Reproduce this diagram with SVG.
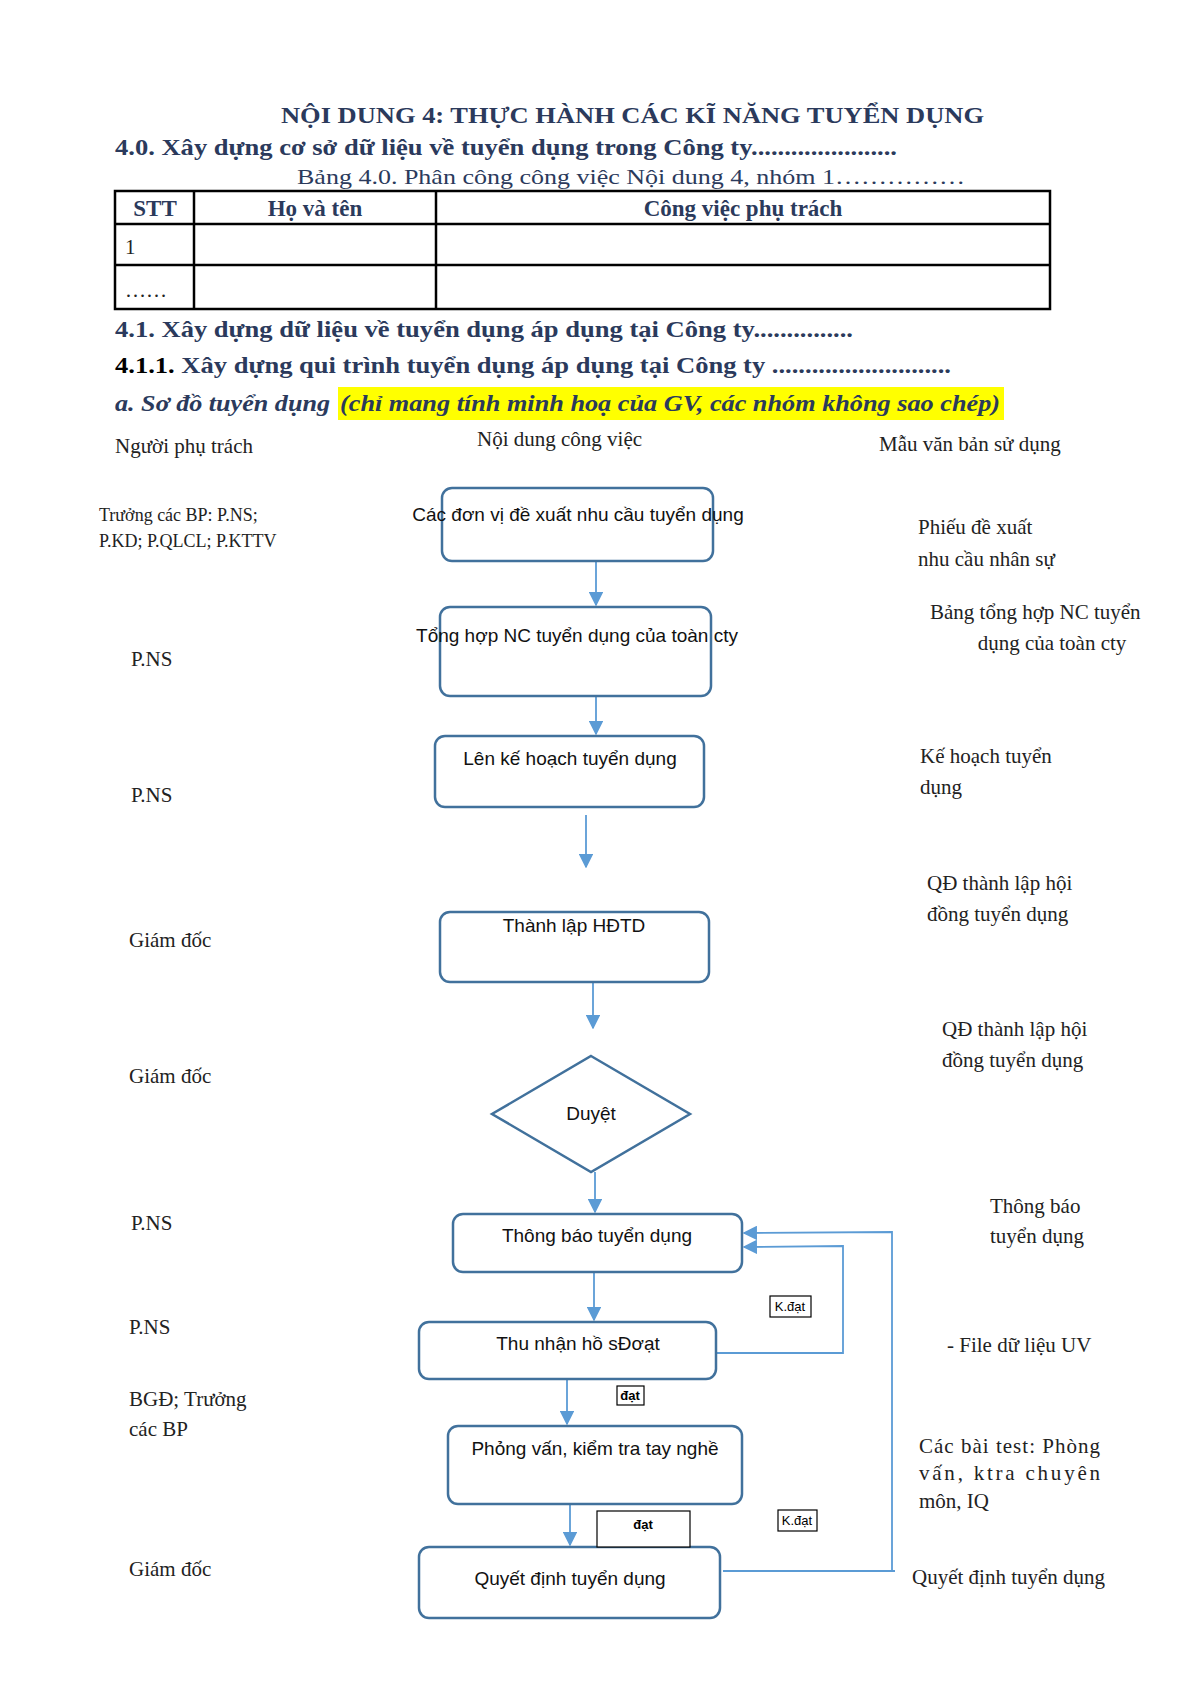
<svg xmlns="http://www.w3.org/2000/svg" width="1200" height="1701" viewBox="0 0 1200 1701">
<style>
.h{font-family:"Liberation Serif",serif;font-weight:bold;fill:#2b3a5c;font-size:23px}
.s{font-family:"Liberation Serif",serif;fill:#222;font-size:21px}
.b{font-family:"Liberation Sans",sans-serif;fill:#111;font-size:19px;text-anchor:middle}
.box{fill:#fff;stroke:#41719c;stroke-width:2.5}
.ln{stroke:#5b9bd5;stroke-width:1.8;fill:none}
.lb{fill:#fff;stroke:#000;stroke-width:1.2}
.k{font-family:"Liberation Sans",sans-serif;font-size:13px;fill:#000;text-anchor:middle}
</style>
<defs><marker id="a" viewBox="0 0 10 10" refX="9" refY="5" markerWidth="8" markerHeight="8" orient="auto"><path d="M0,0L10,5L0,10z" fill="#5b9bd5"/></marker></defs>
<rect width="1200" height="1701" fill="#fff"/>
<text x="281" y="123" class="h" textLength="703" lengthAdjust="spacingAndGlyphs">NỘI DUNG 4: THỰC HÀNH CÁC KĨ NĂNG TUYỂN DỤNG</text>
<text x="115" y="155" class="h" textLength="782" lengthAdjust="spacingAndGlyphs">4.0. Xây dựng cơ sở dữ liệu về tuyển dụng trong Công ty......................</text>
<text x="297" y="184" class="s" style="fill:#2b3a5c" textLength="668" lengthAdjust="spacingAndGlyphs">Bảng 4.0. Phân công công việc Nội dung 4, nhóm 1……………</text>
<g fill="none" stroke="#000" stroke-width="2.5">
<rect x="115" y="191" width="935" height="118"/>
<line x1="115" y1="224" x2="1050" y2="224"/><line x1="115" y1="265" x2="1050" y2="265"/>
<line x1="194" y1="191" x2="194" y2="309"/><line x1="436" y1="191" x2="436" y2="309"/>
</g>
<text x="155" y="216" class="h" text-anchor="middle" font-size="25">STT</text>
<text x="315" y="216" class="h" text-anchor="middle" font-size="25">Họ và tên</text>
<text x="743" y="216" class="h" text-anchor="middle" font-size="25">Công việc phụ trách</text>
<text x="125" y="254" class="s">1</text>
<text x="125" y="297" class="s">……</text>
<text x="115" y="337" class="h" textLength="738" lengthAdjust="spacingAndGlyphs">4.1. Xây dựng dữ liệu về tuyển dụng áp dụng tại Công ty...............</text>
<text x="115" y="373" class="h" textLength="836" lengthAdjust="spacingAndGlyphs"><tspan fill="#000">4.1.1.</tspan> Xây dựng qui trình tuyển dụng áp dụng tại Công ty ...........................</text>
<rect x="338" y="387" width="666" height="33" fill="#ffff00"/>
<text x="115" y="411" class="h" font-style="italic" textLength="215" lengthAdjust="spacingAndGlyphs">a. Sơ đồ tuyển dụng</text>
<text x="340" y="411" class="h" font-style="italic" textLength="660" lengthAdjust="spacingAndGlyphs">(chỉ mang tính minh hoạ của GV, các nhóm không sao chép)</text>
<text x="115" y="453" class="s">Người phụ trách</text>
<text x="477" y="446" class="s">Nội dung công việc</text>
<text x="879" y="451" class="s">Mẫu văn bản sử dụng</text>
<g class="s">
<text x="99" y="521" font-size="18">Trưởng các BP: P.NS;</text>
<text x="99" y="547" font-size="18">P.KD; P.QLCL; P.KTTV</text>
<text x="131" y="666">P.NS</text><text x="131" y="802">P.NS</text>
<text x="129" y="947">Giám đốc</text><text x="129" y="1083">Giám đốc</text>
<text x="131" y="1230">P.NS</text><text x="129" y="1334">P.NS</text>
<text x="129" y="1406">BGĐ; Trưởng</text><text x="129" y="1436">các BP</text>
<text x="129" y="1576">Giám đốc</text>
<text x="918" y="534">Phiếu đề xuất</text><text x="918" y="566">nhu cầu nhân sự</text>
<text x="930" y="619">Bảng tổng hợp NC tuyển</text><text x="1052" y="650" text-anchor="middle">dụng của toàn cty</text>
<text x="920" y="763">Kế hoạch tuyển</text><text x="920" y="794">dụng</text>
<text x="927" y="890">QĐ thành lập hội</text><text x="927" y="921">đồng tuyển dụng</text>
<text x="942" y="1036">QĐ thành lập hội</text><text x="942" y="1067">đồng tuyển dụng</text>
<text x="990" y="1213">Thông báo</text><text x="990" y="1243">tuyển dụng</text>
<text x="947" y="1352">- File dữ liệu UV</text>
<text x="919" y="1453" textLength="181" lengthAdjust="spacing">Các bài test: Phòng</text>
<text x="919" y="1480" textLength="181" lengthAdjust="spacing">vấn, ktra chuyên</text>
<text x="919" y="1508">môn, IQ</text>
<text x="912" y="1584">Quyết định tuyển dụng</text>
</g>
<g id="connectors">
<line class="ln" x1="596" y1="561" x2="596" y2="605" marker-end="url(#a)"/>
<line class="ln" x1="596" y1="696" x2="596" y2="734" marker-end="url(#a)"/>
<line class="ln" x1="586" y1="815" x2="586" y2="867" marker-end="url(#a)"/>
<line class="ln" x1="593" y1="979" x2="593" y2="1028" marker-end="url(#a)"/>
<line class="ln" x1="595" y1="1172" x2="595" y2="1212" marker-end="url(#a)"/>
<line class="ln" x1="594" y1="1272" x2="594" y2="1320" marker-end="url(#a)"/>
<line class="ln" x1="567" y1="1379" x2="567" y2="1424" marker-end="url(#a)"/>
<line class="ln" x1="570" y1="1505" x2="570" y2="1545" marker-end="url(#a)"/>
<polyline class="ln" points="716,1353 843,1353 843,1246 744,1247" marker-end="url(#a)"/>
<polyline class="ln" points="723,1571 895,1571 892,1571 892,1232 744,1233" marker-end="url(#a)"/>
</g>
<g id="n1"><rect class="box" x="442" y="488" width="271" height="73" rx="10"/><text class="b" x="578" y="521" font-size="16">Các đơn vị đề xuất nhu cầu tuyển dụng</text></g>
<g id="n2"><rect class="box" x="440" y="607" width="271" height="89" rx="10"/><text class="b" x="577" y="642">Tổng hợp NC tuyển dụng của toàn cty</text></g>
<g id="n3"><rect class="box" x="435" y="736" width="269" height="71" rx="10"/><text class="b" x="570" y="765">Lên kế hoạch tuyển dụng</text></g>
<g id="n4"><rect class="box" x="440" y="912" width="269" height="70" rx="10"/><text class="b" x="574" y="932">Thành lập HĐTD</text></g>
<g id="n5"><polygon class="box" points="591,1056 690,1114 591,1172 492,1114"/><text class="b" x="591" y="1120">Duyệt</text></g>
<g id="n6"><rect class="box" x="453" y="1214" width="289" height="58" rx="10"/><text class="b" x="597" y="1242">Thông báo tuyển dụng</text></g>
<g id="n7"><rect class="box" x="419" y="1322" width="297" height="57" rx="10"/><text class="b" x="578" y="1350">Thu nhận hồ sĐơạt</text></g>
<g id="n8"><rect class="box" x="448" y="1426" width="294" height="78" rx="10"/><text class="b" x="595" y="1455">Phỏng vấn, kiểm tra tay nghề</text></g>
<g id="n9"><rect class="box" x="419" y="1547" width="301" height="71" rx="10" stroke="#2f528f"/><text class="b" x="570" y="1585">Quyết định tuyển dụng</text></g>
<g id="labels">
<rect class="lb" x="597" y="1511" width="93" height="36"/><text class="k" x="643" y="1529" font-weight="bold">đạt</text>
<rect class="lb" x="617" y="1386" width="27" height="19"/><text class="k" x="630" y="1400" font-weight="bold">đạt</text>
<rect class="lb" x="770" y="1296" width="41" height="21"/><text class="k" x="790" y="1311">K.đạt</text>
<rect class="lb" x="778" y="1510" width="39" height="21"/><text class="k" x="797" y="1525">K.đạt</text>
</g>
</svg>
